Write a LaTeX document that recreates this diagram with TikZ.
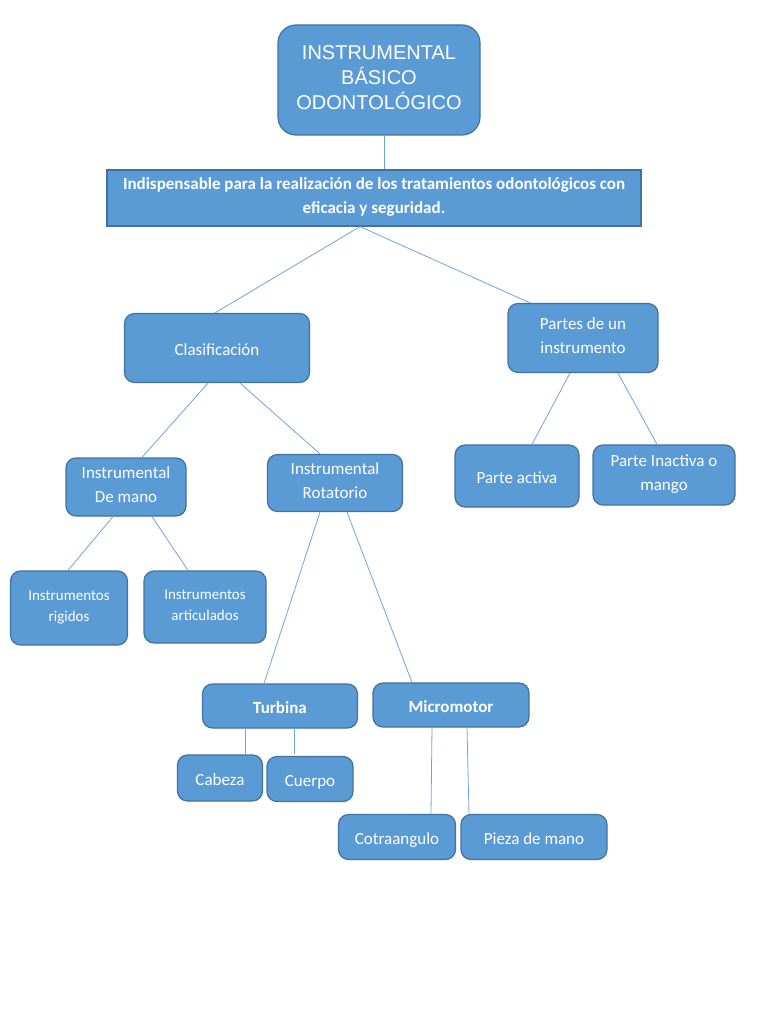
\documentclass[tikz,border=0pt]{standalone}
\usepackage{fontspec}
\setmainfont{Carlito}
\newfontfamily\titlefont{Liberation Sans}
\usepackage{xcolor}
\usetikzlibrary{calc}

\definecolor{boxfill}{HTML}{5B9BD5}
\definecolor{boxline}{HTML}{41719C}
\definecolor{linkblue}{HTML}{6FA6DA}
\newcommand\boxstrut{\rule[-0.18\baselineskip]{0pt}{\baselineskip}}

\begin{document}
\begin{tikzpicture}[
  x=1pt, y=-1pt,
  concept/.style={rectangle, rounded corners=10pt, draw=boxline, line width=1.2pt, fill=boxfill,
    text=white, align=center, inner sep=0pt, font=\fontsize{17}{24}\selectfont,
    execute at begin node=\boxstrut, execute at end node=\boxstrut},
  small/.style={concept, font=\fontsize{15}{21}\selectfont},
  link/.style={draw=linkblue, line width=0.8pt}
]
\useasboundingbox (0,0) rectangle (768,1024);

\node[concept, rounded corners=18pt, minimum width=202pt, minimum height=110pt,
  font=\titlefont\fontsize{20}{25}\selectfont] (title) at (379,80) {INSTRUMENTAL\\BÁSICO\\ODONTOLÓGICO};
\node[concept, rounded corners=0pt, minimum width=534pt, minimum height=56pt,
  font=\bfseries\fontsize{17}{24}\selectfont] (desc) at (374,198)
  {Indispensable para la realización de los tratamientos odontológicos con\\eficacia y seguridad.};

\node[concept, minimum width=185pt, minimum height=69pt] (clas) at (217,348) {Clasificación};
\node[concept, minimum width=150pt, minimum height=69pt] (partes) at (583,338) {Partes de un\\instrumento};

\node[concept, minimum width=120pt, minimum height=58pt] (mano) at (126,487) {Instrumental\\De mano};
\node[concept, minimum width=135pt, minimum height=57pt] (rotat) at (335,483) {Instrumental\\Rotatorio};
\node[concept, minimum width=124pt, minimum height=62pt] (activa) at (517,476) {Parte activa};
\node[concept, minimum width=142pt, minimum height=60pt] (inactiva) at (664,475) {Parte Inactiva o\\mango};

\node[small, minimum width=117pt, minimum height=74pt] (rigidos) at (69,608) {Instrumentos\\rigidos};
\node[small, minimum width=122pt, minimum height=72pt] (articul) at (205,607) {Instrumentos\\articulados};

\node[concept, minimum width=155pt, minimum height=44pt, font=\bfseries\fontsize{17}{24}\selectfont] (turbina) at (280,706) {Turbina};
\node[concept, minimum width=156pt, minimum height=44pt, font=\bfseries\fontsize{17}{24}\selectfont] (micro) at (451,705) {Micromotor};
\node[concept, minimum width=85pt, minimum height=46pt] (cabeza) at (220,778) {Cabeza};
\node[concept, minimum width=86pt, minimum height=45pt] (cuerpo) at (310,779) {Cuerpo};
\node[concept, minimum width=117pt, minimum height=45pt] (cotra) at (397,837) {Cotraangulo};
\node[concept, minimum width=146pt, minimum height=45pt] (pieza) at (534,837) {Pieza de mano};

% connectors
\draw[link] ($(title.south)+(5,0)$) -- ($(desc.north)+(10,0)$);
\draw[link] ($(desc.south)+(-14,0)$) -- ($(clas.north)+(-2,0)$);
\draw[link] ($(desc.south)+(-14,0)$) -- ($(partes.north)+(-53,0)$);
\draw[link] ($(clas.south)+(-9,0)$) -- ($(mano.north)+(16,0)$);
\draw[link] ($(clas.south)+(23,0)$) -- ($(rotat.north)+(-15,0)$);
\draw[link] ($(partes.south)+(-13,0)$) -- ($(activa.north)+(15,0)$);
\draw[link] ($(partes.south)+(35,0)$) -- ($(inactiva.north)+(-7,0)$);
\draw[link] ($(mano.south)+(-13,0)$) -- ($(rigidos.north)+(-1,0)$);
\draw[link] ($(mano.south)+(26,0)$) -- ($(articul.north)+(-17,0)$);
\draw[link] ($(rotat.south)+(-15,0)$) -- ($(turbina.north)+(-16,0)$);
\draw[link] ($(rotat.south)+(12,0)$) -- ($(micro.north)+(-39,0)$);
\draw[link] ($(turbina.south)+(-35,0)$) -- ($(cabeza.north)+(25,0)$);
\draw[link] ($(turbina.south)+(14,0)$) -- ($(cuerpo.north)+(-16,-2)$);
\draw[link] ($(micro.south)+(-19,0)$) -- ($(cotra.north)+(34,0)$);
\draw[link] ($(micro.south)+(16,0)$) -- ($(pieza.north)+(-65,0)$);
\end{tikzpicture}
\end{document}
